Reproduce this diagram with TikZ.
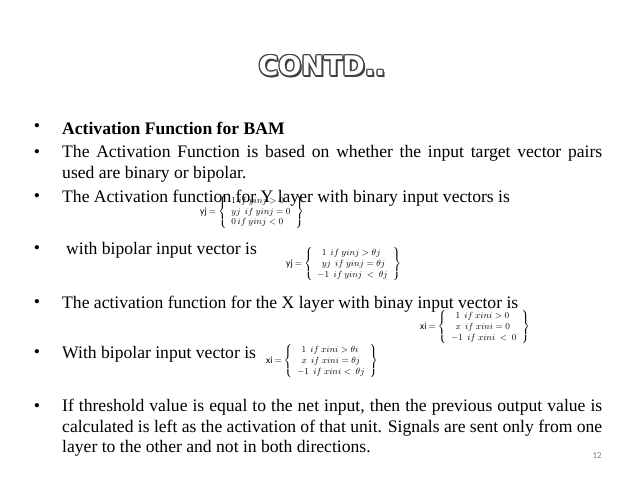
\documentclass[tikz,border=0pt]{standalone}
\usepackage{amsmath}
\usepackage{fontspec}
\setmainfont{Liberation Serif}
\newfontfamily\titlefont{DejaVu Sans}
\newfontfamily\calfont{Carlito}
\begin{document}
\begin{tikzpicture}[x=1pt,y=-1pt,
  txt/.style={anchor=west,font=\fontsize{17.6}{20.5}\selectfont,inner sep=0pt},
  bul/.style={anchor=center,font=\fontsize{17.6}{20.5}\selectfont,inner sep=0pt},
  frm/.style={anchor=west,inner sep=0pt,font=\calfont\fontsize{9.5}{11}\selectfont},
  ttl/.style={anchor=center,inner sep=0pt,font=\titlefont\bfseries\fontsize{27}{30}\selectfont}]
\useasboundingbox (0,0) rectangle (638,478);
\foreach \dx/\dy in {-1/-1,1/-1,-1/1,1/1,0/-1.2,0/1.2,-1.2/0,1.2/0,2/2}{
  \node[ttl,text=black!75] at (322+\dx,66+\dy) {CONTD..};}
\node[ttl,text=white] (t0) at (322,66) {CONTD..};
\node[bul] (b1) at (37,128) {•};
\node[txt] (l1) at (62,128) {\textbf{Activation Function for BAM}};
\node[bul] (b2) at (37,154) {•};
\node[txt,text width=540pt,align=justify] (l2) at (62,164) {The Activation Function is based on whether the input target vector pairs\linebreak used are binary or bipolar.};
\node[bul] (b3) at (37,198) {•};
\node[txt] (l3) at (62,198) {The Activation function for Y layer with binary input vectors is};
\node[frm] (f1) at (200,212) {\renewcommand\arraystretch{0.95}yj $=$ $\left\{\begin{array}{l}1\ if\ yinj>0\\ yj\ \ if\ yinj=0\\ 0\,if\ yinj<0\end{array}\right\}$};
\node[bul] (b4) at (37,250) {•};
\node[txt] (l4) at (66,250) {with bipolar input vector is};
\node[frm] (f2) at (286,264) {yj $=$ $\left\{\begin{array}{l}\ \ 1\ \ if\ yinj>\theta j\\ \ \ yj\ \ if\ yinj=\theta j\\ -1\ \ if\ yinj\ <\ \theta j\end{array}\right\}$};
\node[bul] (b5) at (37,304) {•};
\node[txt] (l5) at (62,304) {The activation function for the X layer with binay input vector is};
\node[frm] (f3) at (420,327) {xi $=$ $\left\{\begin{array}{l}\ \ 1\ \ if\ xini>0\\ \ \ x\ \ if\ xini=0\\ -1\ \ if\ xini\ <\ 0\end{array}\right\}$};
\node[bul] (b6) at (37,354) {•};
\node[txt] (l6) at (62,354) {With bipolar input vector is};
\node[frm] (f4) at (266,361) {xi $=$ $\left\{\begin{array}{l}\ \ 1\ \ if\ xini>\theta i\\ \ \ x\ \ if\ xini=\theta j\\ -1\ \ if\ xini<\ \theta j\end{array}\right\}$};
\node[bul] (b7) at (37,408) {•};
\node[txt,text width=540pt,align=justify] (l7) at (62,428) {If threshold value is equal to the net input, then the previous output value is calculated is left as the activation of that unit. Signals are sent only from one layer to the other and not in both directions.};
\node[anchor=east,inner sep=0pt,font=\calfont\fontsize{9}{11}\selectfont,text=gray] (pg) at (602,456) {12};
\end{tikzpicture}
\end{document}
